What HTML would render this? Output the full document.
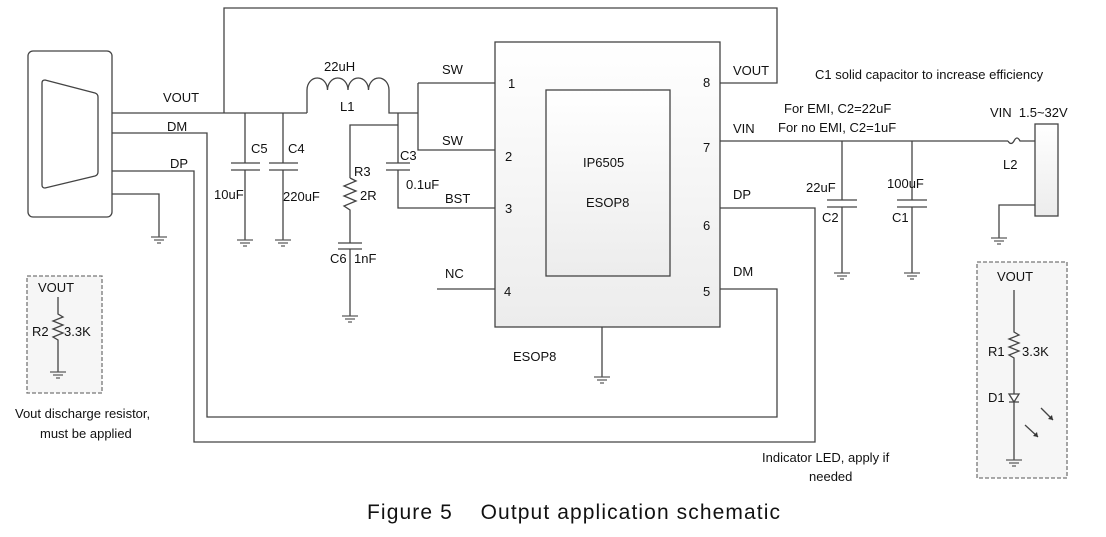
<!DOCTYPE html>
<html><head><meta charset="utf-8"><style>
html,body{margin:0;padding:0;background:#fff;}
svg{display:block;}
text{font-family:"Liberation Sans",sans-serif;font-size:13px;fill:#111;}
</style></head><body>
<svg width="1106" height="537" viewBox="0 0 1106 537" xmlns="http://www.w3.org/2000/svg">
<defs>
<linearGradient id="g" x1="0" y1="0" x2="0" y2="1"><stop offset="0" stop-color="#fff"/><stop offset="1" stop-color="#ececec"/></linearGradient>
<g id="gnd" stroke="#555" stroke-width="1.2"><line x1="-8" y1="0" x2="8" y2="0"/><line x1="-5" y1="3" x2="5" y2="3"/><line x1="-2" y1="6" x2="2" y2="6"/></g>
</defs>
<g fill="none" stroke="#444" stroke-width="1.3">
<rect x="28" y="51" width="84" height="166" rx="5" fill="#fff"/>
<path d="M45 80 L95 93 Q98 94 98 97 L98 172 Q98 175 95 176 L45 188 Q42 188 42 185 L42 83 Q42 80 45 80Z"/>
<polyline points="112,113 307,113"/>
<polyline points="224,113 224,8 777,8 777,83 720,83"/>
<path d="M307,113 V90 a10.25,12 0 0 1 20.5,0 a10.25,12 0 0 1 20.5,0 a10.25,12 0 0 1 20.5,0 a10.25,12 0 0 1 20.5,0 V113 H418"/>
<polyline points="418,83 495,83"/>
<polyline points="418,83 418,150 495,150"/>
<polyline points="398,113 398,163"/>
<polyline points="398,170 398,208 495,208"/>
<polyline points="398,125 350,125 350,178"/>
<polyline points="350,178 356,181 344,186 356,191 344,196 356,201 344,206 350,210 350,243"/>
<line x1="338" y1="243" x2="362" y2="243"/><line x1="338" y1="249" x2="362" y2="249"/>
<polyline points="350,249 350,316"/>
<line x1="386" y1="163" x2="410" y2="163"/><line x1="386" y1="170" x2="410" y2="170"/>
<polyline points="245,113 245,163"/><line x1="231" y1="163" x2="260" y2="163"/><line x1="231" y1="170" x2="260" y2="170"/><polyline points="245,170 245,240"/>
<polyline points="283,113 283,163"/><line x1="269" y1="163" x2="298" y2="163"/><line x1="269" y1="170" x2="298" y2="170"/><polyline points="283,170 283,240"/>
<polyline points="112,133 207,133 207,417 777,417 777,289 720,289"/>
<polyline points="112,171 194,171 194,442 815,442 815,208 720,208"/>
<polyline points="112,194 159,194 159,237"/>
<polyline points="437,289 495,289"/>
<rect x="495" y="42" width="225" height="285" fill="url(#g)"/>
<rect x="546" y="90" width="124" height="186" fill="url(#g)"/>
<polyline points="602,327 602,377"/>
<polyline points="720,141 1008,141"/>
<path d="M1008,141 q3,5 6,0 q3,-6 6,0 H1035"/>
<rect x="1035" y="124" width="23" height="92" fill="url(#g)"/>
<polyline points="1035,205 999,205 999,238"/>
<polyline points="842,141 842,200"/><line x1="827" y1="200" x2="857" y2="200"/><line x1="827" y1="207" x2="857" y2="207"/><polyline points="842,207 842,273"/>
<polyline points="912,141 912,200"/><line x1="897" y1="200" x2="927" y2="200"/><line x1="897" y1="207" x2="927" y2="207"/><polyline points="912,207 912,273"/>
<rect x="27" y="276" width="75" height="117" stroke="#777" stroke-dasharray="4,2" fill="#f6f6f6"/>
<polyline points="58,297 58,314 63,317 53,321 63,325 53,329 63,333 53,337 58,340 58,372"/>
<rect x="977" y="262" width="90" height="216" stroke="#777" stroke-dasharray="4,2" fill="#f6f6f6"/>
<polyline points="1014,290 1014,332 1019,335 1009,339 1019,343 1009,347 1019,351 1009,355 1014,358 1014,460"/>
<path d="M1009,394 H1019 L1014,402Z M1009,402 H1019" fill="#fff"/>
<line x1="1041" y1="408" x2="1053" y2="420"/><line x1="1025" y1="425" x2="1038" y2="437"/>
</g>
<path d="M1053,420 l-5,-1 l4,-4Z M1038,437 l-5,-1 l4,-4Z" fill="#333"/>
<use href="#gnd" x="159" y="237"/><use href="#gnd" x="245" y="240"/><use href="#gnd" x="283" y="240"/><use href="#gnd" x="350" y="316"/>
<use href="#gnd" x="602" y="377"/><use href="#gnd" x="999" y="238"/><use href="#gnd" x="842" y="273"/><use href="#gnd" x="912" y="273"/>
<use href="#gnd" x="58" y="372"/><use href="#gnd" x="1014" y="460"/>
<text x="163" y="102">VOUT</text><text x="167" y="131">DM</text><text x="170" y="168">DP</text>
<text x="324" y="71">22uH</text><text x="340" y="111">L1</text>
<text x="251" y="153">C5</text><text x="288" y="153">C4</text>
<text x="214" y="199">10uF</text><text x="283" y="201">220uF</text>
<text x="354" y="176">R3</text><text x="360" y="200">2R</text>
<text x="400" y="160">C3</text><text x="406" y="189">0.1uF</text>
<text x="330" y="263">C6</text><text x="354" y="263">1nF</text>
<text x="442" y="74">SW</text><text x="442" y="145">SW</text><text x="445" y="203">BST</text><text x="445" y="278">NC</text>
<text x="508" y="88">1</text><text x="505" y="161">2</text><text x="505" y="213">3</text><text x="504" y="296">4</text>
<text x="703" y="87">8</text><text x="703" y="152">7</text><text x="703" y="230">6</text><text x="703" y="296">5</text>
<text x="583" y="167">IP6505</text><text x="586" y="207">ESOP8</text><text x="513" y="361">ESOP8</text>
<text x="733" y="75">VOUT</text><text x="733" y="133">VIN</text><text x="733" y="199">DP</text><text x="733" y="276">DM</text>
<text x="815" y="79">C1 solid capacitor to increase efficiency</text>
<text x="784" y="113">For EMI, C2=22uF</text><text x="778" y="132">For no EMI, C2=1uF</text>
<text x="990" y="117" style="white-space:pre">VIN  1.5~32V</text><text x="1003" y="169">L2</text>
<text x="806" y="192">22uF</text><text x="887" y="188">100uF</text>
<text x="822" y="222">C2</text><text x="892" y="222">C1</text>
<text x="38" y="292">VOUT</text><text x="32" y="336">R2</text><text x="64" y="336">3.3K</text>
<text x="15" y="418">Vout discharge resistor,</text><text x="40" y="438">must be applied</text>
<text x="997" y="281">VOUT</text><text x="988" y="356">R1</text><text x="1022" y="356">3.3K</text><text x="988" y="402">D1</text>
<text x="762" y="462">Indicator LED, apply if</text><text x="809" y="481">needed</text>
<text x="367" y="519" style="font-size:21px;white-space:pre" textLength="413" lengthAdjust="spacing">Figure 5    Output application schematic</text>
</svg>
</body></html>
